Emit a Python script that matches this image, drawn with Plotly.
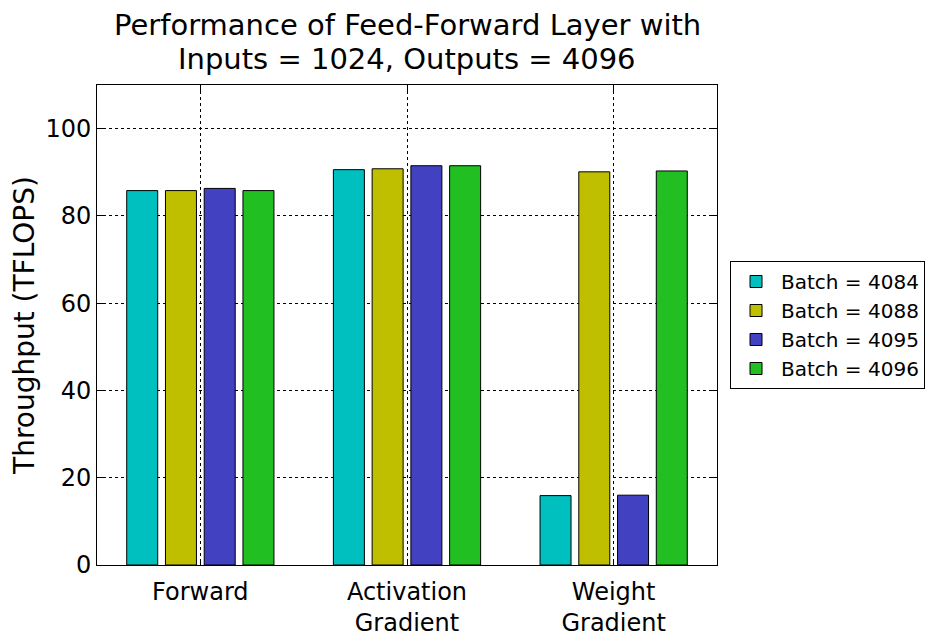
import plotly.graph_objects as go

categories = ["Forward", "Activation<br>Gradient", "Weight<br>Gradient"]
batch_names = ["Batch = 4084", "Batch = 4088", "Batch = 4095", "Batch = 4096"]
batch_4084 = [85.8, 90.6, 15.9]
batch_4088 = [85.8, 90.8, 90.1]
batch_4095 = [86.3, 91.5, 16.0]
batch_4096 = [85.8, 91.5, 90.3]
title_lines = ["Performance of Feed-Forward Layer with", "Inputs = 1024, Outputs = 4096"]

series = [batch_4084, batch_4088, batch_4095, batch_4096]
colors = ['#00bfbf', '#bfbf00', '#4141c1', '#21bf21']

fig = go.Figure()
for name, vals, col in zip(batch_names, series, colors):
    fig.add_trace(go.Bar(x=categories, y=vals, name=name,
                         marker=dict(color=col, line=dict(color='black', width=1))))

axis_style = dict(showline=True, linecolor='black', linewidth=1, mirror='ticks',
                  ticks='inside', ticklen=6, tickcolor='black',
                  showgrid=True, gridcolor='black', gridwidth=1, griddash='dot',
                  zeroline=False, automargin=False, tickfont=dict(size=24, color='black'))

fig.update_xaxes(**axis_style, range=[-0.5, 2.5], ticklabelstandoff=5)
fig.update_yaxes(**axis_style, range=[0, 110], dtick=20,
                 title=dict(text="Throughput (TFLOPS)", font=dict(size=28, color='black'), standoff=10))

# two-line title as separate annotations so the line spacing matches
for line, shift in zip(title_lines, [60, 26]):
    fig.add_annotation(text=line, xref='paper', yref='paper', x=0.5, y=1,
                       xanchor='center', yanchor='middle', yshift=shift, borderpad=0,
                       showarrow=False, font=dict(size=29, color='black'))

# page body adds ~8px offset, so margins are shifted by that amount
fig.update_layout(
    width=949, height=642,
    margin=dict(l=89, r=240, t=77, b=85),
    plot_bgcolor='white', paper_bgcolor='white',
    font=dict(family="DejaVu Sans", color='black'),
    barmode='group', bargap=0.25, bargroupgap=0.2,
    legend=dict(x=1.021, y=0.5, xanchor='left', yanchor='middle',
                bordercolor='black', borderwidth=1, font=dict(size=20),
                itemwidth=40, traceorder='normal'),
)

fig.write_html("out.html")
